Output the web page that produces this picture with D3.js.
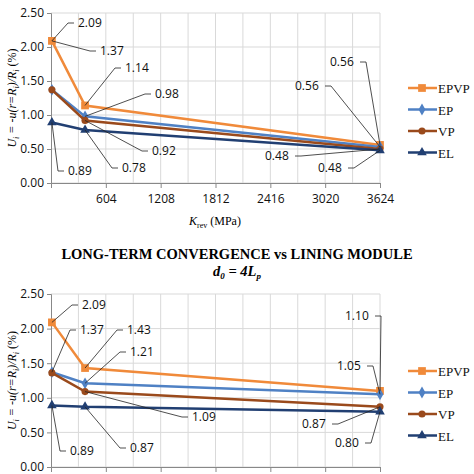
<!DOCTYPE html>
<html><head><meta charset="utf-8">
<script src="https://cdnjs.cloudflare.com/ajax/libs/d3/7.8.5/d3.min.js"></script>
<style>body{margin:0;background:#fff}</style>
</head><body>
<script>
var kValues = [10, 375, 3624];
var seriesNames = ["EPVP", "EP", "VP", "EL"];
var colors = ["#f08a3a", "#4f81c4", "#9a4a1c", "#213f72"];
var topValues = [[2.09, 1.14, 0.56], [1.37, 0.98, 0.53], [1.37, 0.92, 0.50], [0.89, 0.78, 0.48]];
var botValues = [[2.09, 1.43, 1.10], [1.37, 1.21, 1.05], [1.36, 1.09, 0.87], [0.89, 0.87, 0.80]];
var xTicks = [604, 1208, 1812, 2416, 3020, 3624];
var yTicks = [0, 0.5, 1, 1.5, 2, 2.5];
// labels: [text, series, point, textX, textY] (text position in px)
var topLabels = [["2.09",0,0,78,27],["1.37",0,0,100,55],["1.14",0,1,125,72],["0.98",1,1,155,98],
  ["0.92",2,1,152,155],["0.78",3,1,122,172],["0.89",3,0,68,175],["0.56",0,2,330,66],
  ["0.56",1,2,295,90],["0.48",2,2,265,160],["0.48",3,2,318,172]];
var botLabels = [["2.09",0,0,82,309],["1.37",1,0,80,334],["1.43",0,1,127,334],["1.21",1,1,130,356],
  ["1.09",2,1,192,421],["0.87",3,1,130,452],["0.89",3,0,70,455],["1.10",0,2,345,320],
  ["1.05",1,2,337,370],["0.87",2,2,302,428],["0.80",3,2,335,447]];

var svg = d3.select("body").append("svg").attr("width", 474).attr("height", 474);
var x = d3.scaleLinear().domain([0, 3624]).range([51, 380]);
var symbols = [d3.symbolSquare, d3.symbolDiamond, d3.symbolCircle, d3.symbolTriangle];

function drawChart(values, labels, y0, y1, legendY, showX) {
  var y = d3.scaleLinear().domain([0, 2.5]).range([y1, y0]);
  var g = svg.append("g");
  g.selectAll(".vg").data(d3.range(302, 3625, 302)).join("line")
    .attr("x1", d => x(d)).attr("x2", d => x(d)).attr("y1", y0).attr("y2", y1)
    .attr("stroke", "#d9d9d9");
  g.selectAll(".hg").data(yTicks).join("line")
    .attr("x1", 51).attr("x2", 380).attr("y1", d => y(d)).attr("y2", d => y(d))
    .attr("stroke", "#d9d9d9");
  var xa = g.append("g").attr("transform", "translate(0," + y1 + ")")
    .call(d3.axisBottom(x).tickValues(xTicks).tickFormat(d3.format("d")).tickSize(5).tickPadding(6));
  if (!showX) xa.selectAll("text").remove();
  var ya = g.append("g").attr("transform", "translate(51,0)")
    .call(d3.axisLeft(y).tickValues(yTicks).tickFormat(d3.format(".2f")).tickSize(4));
  [xa, ya].forEach(a => {
    a.select(".domain").attr("stroke", "#888");
    a.selectAll(".tick line").attr("stroke", "#888");
    a.selectAll("text").attr("font-family", "Open Sans").attr("font-size", 12).attr("fill", "#111");
  });
  ya.selectAll("text").attr("x", -7);
  var line = d3.line().x((d, i) => x(kValues[i])).y(d => y(d));
  values.forEach((s, k) => {
    g.append("path").attr("d", line(s)).attr("fill", "none").attr("stroke", colors[k]).attr("stroke-width", 2.5);
    g.selectAll(".m" + k).data(s).join("path")
      .attr("transform", (d, i) => "translate(" + x(kValues[i]) + "," + y(d) + ")")
      .attr("d", d3.symbol().type(symbols[k]).size(k == 0 ? 60 : 40)).attr("fill", colors[k]);
  });
  labels.forEach(l => {
    var px = x(kValues[l[2]]), py = y(values[l[1]][l[2]]);
    var left = l[3] > px;
    var ex = left ? l[3] - 4 : l[3] + 30;
    g.append("polyline").attr("points", [[px, py], [left ? ex - 6 : ex + 6, l[4] - 4], [ex, l[4] - 4]].join(" "))
      .attr("fill", "none").attr("stroke", "#222").attr("stroke-width", 0.8);
    g.append("text").attr("x", l[3]).attr("y", l[4]).attr("font-family", "Open Sans")
      .attr("font-size", 12).attr("fill", "#111").text(l[0]);
  });
  g.append("text").attr("transform", "translate(16," + (y0 + y1) / 2 + ") rotate(-90)")
    .attr("text-anchor", "middle").attr("font-family", "Liberation Serif").attr("font-style", "italic")
    .attr("font-size", 12).html('U<tspan font-size="8" dy="3">i</tspan><tspan dy="-3"> = -u(r=R</tspan><tspan font-size="8" dy="3">i</tspan><tspan dy="-3">)/R</tspan><tspan font-size="8" dy="3">i</tspan><tspan dy="-3" font-style="normal"> (%)</tspan>');
  seriesNames.forEach((n, k) => {
    var ly = legendY + k * 21.5;
    g.append("line").attr("x1", 408).attr("x2", 437).attr("y1", ly).attr("y2", ly)
      .attr("stroke", colors[k]).attr("stroke-width", 2.5);
    g.append("path").attr("transform", "translate(422," + ly + ")")
      .attr("d", d3.symbol().type(symbols[k]).size(k == 0 ? 60 : 40)).attr("fill", colors[k]);
    g.append("text").attr("x", 438).attr("y", ly + 5).attr("font-family", "Liberation Serif")
      .attr("font-size", 13).attr("fill", "#111").text(n);
  });
}

drawChart(topValues, topLabels, 13, 183, 88, true);
svg.append("text").attr("x", 215).attr("y", 225).attr("text-anchor", "middle")
  .attr("font-family", "Liberation Serif").attr("font-size", 12)
  .html('<tspan font-style="italic">K</tspan><tspan font-size="8" dy="3">rev</tspan><tspan dy="-3">   (MPa)</tspan>');
svg.append("text").attr("x", 237).attr("y", 259).attr("text-anchor", "middle")
  .attr("font-family", "Liberation Serif").attr("font-weight", "bold").attr("font-size", 14.5)
  .text("LONG-TERM CONVERGENCE vs LINING MODULE");
svg.append("text").attr("x", 237).attr("y", 276).attr("text-anchor", "middle")
  .attr("font-family", "Liberation Serif").attr("font-weight", "bold").attr("font-style", "italic").attr("font-size", 14.5)
  .html('d<tspan font-size="9" dy="3">0</tspan><tspan dy="-3"> = 4L</tspan><tspan font-size="9" dy="3">p</tspan>');
drawChart(botValues, botLabels, 294, 467, 371, false);
</script>
</body></html>
